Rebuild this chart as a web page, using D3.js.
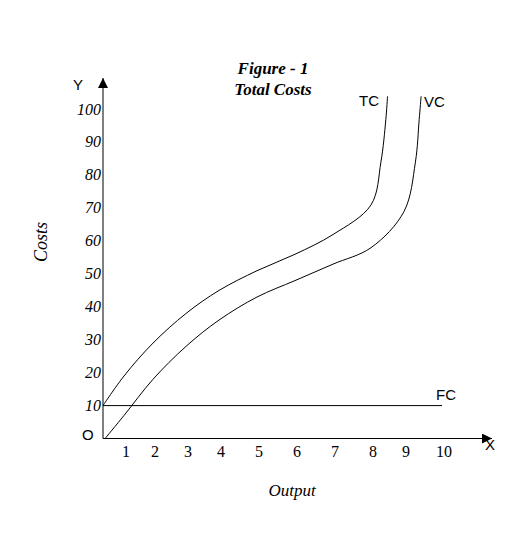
<!DOCTYPE html>
<html><head><meta charset="utf-8">
<script src="https://cdn.jsdelivr.net/npm/d3@7"></script>
<style>body{margin:0;background:#fff}</style>
</head><body>
<svg id="c" width="523" height="548"></svg>
<script>
var xTicks=[1,2,3,4,5,6,7,8,9,10];
var yTicks=[10,20,30,40,50,60,70,80,90,100];
var tcX=[0,1,2,3,4,5,6,7,8,8.3,8.45,8.5];
var tcY=[10,19,29,38,45,51,56,62,71,84,97,104];
var vcX=[0.1,1,2,3,4,5,6,7,8,9,9.3,9.4,9.45];
var vcY=[0,7,18,28,36,43,48,53,58,69,84,97,104];
var fcX=[0,10], fcY=[10,10];

var svg=d3.select("#c");
// output axis labels are unevenly spaced in the source, so piecewise scale
var x=d3.scaleLinear().domain([0,1,2,3,4,5,6,7,8,9,10])
	.range([103,124,153,186,219,257,295,333,371,404,442]);
var y=d3.scaleLinear().domain([0,100]).range([438.5,109.5]);
var serif="Liberation Serif, Times New Roman, serif", sans="Liberation Sans, Arial, sans-serif";

svg.append("defs").append("marker").attr("id","ar").attr("viewBox","0 0 10 10")
	.attr("refX",10).attr("refY",5).attr("markerWidth",10).attr("markerHeight",10)
	.attr("markerUnits","userSpaceOnUse").attr("orient","auto")
	.append("path").attr("d","M0,0L10,5L0,10z").attr("fill","#000");

svg.append("line").attr("x1",103).attr("y1",y(0)).attr("x2",103).attr("y2",78)
	.attr("stroke","#000").attr("marker-end","url(#ar)");
svg.append("line").attr("x1",103).attr("y1",y(0)).attr("x2",492).attr("y2",y(0))
	.attr("stroke","#000").attr("marker-end","url(#ar)");

svg.selectAll(".yt").data(yTicks).enter().append("text")
	.attr("x",101).attr("y",function(d){return y(d)+5;}).attr("text-anchor","end")
	.attr("font-family",serif).attr("font-style","italic").attr("font-size",16)
	.text(function(d){return d;});
svg.selectAll(".xt").data(xTicks).enter().append("text")
	.attr("x",function(d){return x(d)+2;}).attr("y",457).attr("text-anchor","middle")
	.attr("font-family",serif).attr("font-size",16).text(function(d){return d;});

var line=d3.line().x(function(d){return x(d[0]);}).y(function(d){return y(d[1]);})
	.curve(d3.curveMonotoneY);
var line2=d3.line().x(function(d){return x(d[0]);}).y(function(d){return y(d[1]);})
	.curve(d3.curveCatmullRom);
svg.append("path").attr("d",line2(d3.zip(tcX,tcY))).attr("fill","none").attr("stroke","#000");
svg.append("path").attr("d",line2(d3.zip(vcX,vcY))).attr("fill","none").attr("stroke","#000");
svg.append("path").attr("d",line2(d3.zip(fcX,fcY))).attr("fill","none").attr("stroke","#000");

function t(s,px,py,o){
	var e=svg.append("text").attr("x",px).attr("y",py).text(s)
		.attr("font-family",o.f||sans).attr("font-size",o.s||15).attr("text-anchor",o.a||"start");
	if(o.i)e.attr("font-style","italic");
	if(o.b)e.attr("font-weight","bold");
	if(o.r)e.attr("transform","rotate(-90,"+px+","+py+")");
}
t("Figure - 1",273,74,{f:serif,s:17,i:1,b:1,a:"middle"});
t("Total Costs",273,95,{f:serif,s:17,i:1,b:1,a:"middle"});
t("TC",359,106,{});
t("VC",424,107,{});
t("FC",436,400,{});
t("Y",73,90,{});
t("X",485,450,{});
t("O",82,440,{});
t("Costs",47,242,{f:serif,s:18,i:1,r:1,a:"middle"});
t("Output",292,496,{f:serif,s:17,i:1,a:"middle"});
</script>
</body></html>
